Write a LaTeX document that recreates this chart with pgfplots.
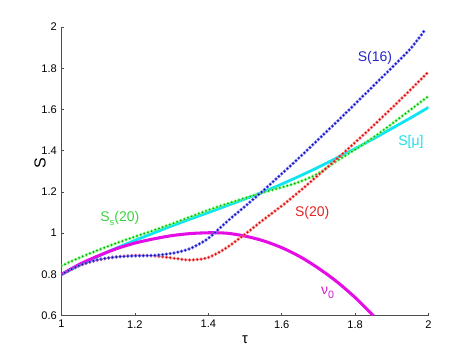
\documentclass[border=0pt]{standalone}
\usepackage{fontspec}
\setmainfont{Liberation Sans}
\usepackage{pgfplots}
\usepackage{pgfplotstable}
\pgfplotsset{compat=1.18}

\definecolor{bhalo}{rgb}{0.4,0.4,1}
\definecolor{bcore}{rgb}{0.05,0.05,0.55}
\definecolor{rhalo}{rgb}{1,0.4,0.4}
\definecolor{rcore}{rgb}{0.75,0.05,0.05}
\definecolor{ghalo}{rgb}{0.4,1,0.4}
\definecolor{gcore}{rgb}{0.1,0.6,0.1}
\definecolor{mycyan}{rgb}{0.05,0.9,0.95}
\definecolor{mymag}{rgb}{0.9,0.05,0.9}

\pgfplotstableread{
t s
1.00 0.800
1.05 0.850
1.10 0.890
1.15 0.925
1.20 0.952
1.25 0.972
1.30 0.988
1.35 0.998
1.40 1.002
1.45 1.000
1.50 0.986
1.55 0.963
1.60 0.930
1.65 0.886
1.70 0.830
1.75 0.765
1.80 0.688
1.85 0.600
}\nuzero

\pgfplotstableread{
t s
1.00 0.800
1.05 0.845
1.10 0.888
1.15 0.928
1.20 0.965
1.25 1.000
1.30 1.035
1.35 1.068
1.40 1.100
1.45 1.133
1.50 1.166
1.55 1.200
1.60 1.238
1.65 1.278
1.70 1.320
1.75 1.365
1.80 1.410
1.85 1.458
1.90 1.508
1.95 1.558
2.00 1.610
}\smu

\pgfplotstableread{
t s
1.00 0.842
1.05 0.882
1.10 0.918
1.15 0.952
1.20 0.983
1.25 1.013
1.30 1.045
1.35 1.078
1.40 1.112
1.45 1.142
1.50 1.170
1.55 1.198
1.60 1.222
1.65 1.250
1.70 1.290
1.75 1.350
1.80 1.405
1.85 1.465
1.90 1.530
1.95 1.597
2.00 1.665
}\sstwenty

\pgfplotstableread{
t s
1.00 0.800
1.05 0.843
1.10 0.870
1.15 0.885
1.20 0.892
1.25 0.890
1.30 0.880
1.35 0.870
1.40 0.882
1.45 0.930
1.50 0.995
1.55 1.065
1.60 1.132
1.65 1.205
1.70 1.282
1.75 1.360
1.80 1.440
1.85 1.522
1.90 1.607
1.95 1.694
2.00 1.783
}\stwenty

\pgfplotstableread{
t s
1.00 0.800
1.05 0.845
1.10 0.872
1.15 0.885
1.20 0.890
1.25 0.892
1.30 0.902
1.35 0.925
1.40 0.975
1.45 1.055
1.50 1.130
1.55 1.207
1.60 1.288
1.65 1.370
1.70 1.455
1.75 1.540
1.80 1.627
1.85 1.715
1.90 1.803
1.95 1.893
1.99 1.985
}\ssixteen

\pgfplotsset{
  halo/.style={smooth, line width=2.8pt, line cap=round, dash pattern=on 0pt off 2.9pt},
  core/.style={smooth, line width=1.3pt, line cap=round, dash pattern=on 0pt off 2.9pt},
}

\begin{document}
\begin{tikzpicture}
\begin{axis}[
  scale only axis, width=275.25pt, height=216.5pt,
  xmin=1, xmax=2, ymin=0.6, ymax=2,
  axis lines=left,
  axis line style={-, black!70, line width=0.5pt},
  tick align=inside, major tick length=2pt,
  tick style={black!70, line width=0.5pt},
  xtick={1,1.2,1.4,1.6,1.8,2},
  ytick={0.6,0.8,1,1.2,1.4,1.6,1.8,2},
  /pgf/number format/assume math mode=true,
  ticklabel style={font=\fontsize{8.3}{10}\selectfont},
  xlabel={τ}, ylabel={S},
  xlabel style={font=\fontsize{11}{13}\selectfont, at={(axis description cs:0.5,-0.084)}, anchor=center},
  ylabel style={font=\fontsize{12}{14}\selectfont, at={(axis description cs:-0.058,0.529)}, anchor=center},
]
\addplot[mycyan, smooth, line width=2.1pt] table[x=t,y=s] {\smu};
\addplot[mymag, smooth, line width=2.3pt] table[x=t,y=s] {\nuzero};
\addplot[ghalo, halo] table[x=t,y=s] {\sstwenty};
\addplot[gcore, core] table[x=t,y=s] {\sstwenty};
\addplot[rhalo, halo] table[x=t,y=s] {\stwenty};
\addplot[rcore, core] table[x=t,y=s] {\stwenty};
\addplot[bhalo, halo] table[x=t,y=s] {\ssixteen};
\addplot[bcore, core] table[x=t,y=s] {\ssixteen};

\node[text={rgb,1:red,0.15;green,0.15;blue,0.8}, font=\fontsize{10.5}{12}\selectfont] at (axis cs:1.854,1.848) {S(16)};
\node[text={rgb,1:red,0.1;green,0.88;blue,0.92}, font=\fontsize{10.5}{12}\selectfont] at (axis cs:1.952,1.444) {S[μ]};
\node[text={rgb,1:red,0.88;green,0.15;blue,0.15}, font=\fontsize{10.5}{12}\selectfont] at (axis cs:1.683,1.097) {S(20)};
\node[text={rgb,1:red,0.25;green,0.82;blue,0.25}, font=\fontsize{10.5}{12}\selectfont] at (axis cs:1.159,1.072) {S\raisebox{-0.45ex}{\fontsize{7}{8}\selectfont s}(20)};
\node[text={rgb,1:red,0.82;green,0.1;blue,0.82}, font=\fontsize{10.5}{12}\selectfont] at (axis cs:1.725,0.712) {ν\raisebox{-0.55ex}{\fontsize{8}{9}\selectfont 0}};
\end{axis}
\path[use as bounding box] ([xshift=-46.125pt,yshift=-29.475pt]current axis.south west) rectangle ([xshift=34.125pt,yshift=20.25pt]current axis.north east);
\end{tikzpicture}
\end{document}
